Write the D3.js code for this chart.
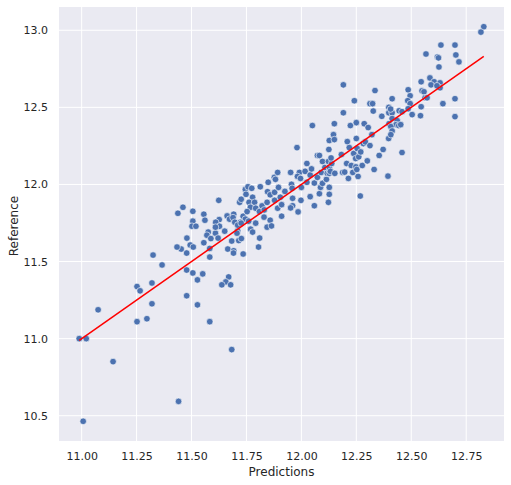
<!DOCTYPE html>
<html>
<head>
<meta charset="utf-8">
<script src="https://cdn.jsdelivr.net/npm/d3@7"></script>
<style>
  body { margin: 0; background: #fff; }
  text { font-family: "DejaVu Sans", sans-serif; fill: #262626; }
</style>
</head>
<body>
<svg id="chart" width="511" height="485"></svg>
<script>
const predictions = [
  10.989, 11.021, 11.075, 11.143, 11.007, 11.441, 11.252, 11.266, 11.320, 11.320,
  11.252, 11.297, 11.325, 11.366, 11.478, 11.527, 11.478, 11.506, 11.527, 11.478,
  11.453, 11.434, 11.494, 11.508, 11.479, 11.551, 11.583, 11.583, 11.556, 11.669,
  11.656, 11.638, 11.678, 11.583, 11.683, 11.665, 11.692, 11.691, 11.735, 11.805,
  11.683, 11.715, 11.727, 11.810, 11.576, 11.570, 11.588, 11.609, 11.621, 11.651,
  11.710, 11.707, 11.769, 11.778, 11.844, 11.461, 11.438, 11.506, 11.556, 11.561,
  11.506, 11.502, 11.520, 11.624, 11.662, 11.673, 11.692, 11.689, 11.697, 11.626,
  11.610, 11.627, 11.609, 11.735, 11.745, 11.760, 11.722, 11.710, 11.726, 11.792,
  11.830, 11.745, 11.757, 11.774, 11.813, 11.849, 11.846, 11.748, 11.778, 11.719,
  11.726, 11.762, 11.787, 11.821, 11.844, 11.768, 11.792, 11.809, 11.753, 11.831,
  11.858, 11.864, 11.858, 11.878, 11.896, 11.877, 11.882, 11.892, 11.904, 11.878,
  11.892, 11.910, 11.910, 11.925, 11.955, 11.958, 11.960, 11.960, 11.951, 11.985,
  11.998, 12.000, 11.951, 11.991, 11.982, 11.996, 11.980, 12.017, 12.025, 12.040,
  12.046, 12.025, 12.059, 12.040, 12.059, 12.073, 12.082, 12.087, 12.096, 12.090,
  12.073, 12.082, 12.096, 12.107, 12.114, 12.118, 12.127, 12.123, 12.127, 12.138,
  12.135, 12.125, 12.127, 12.146, 12.150, 12.150, 12.050, 12.132, 12.152, 12.127,
  12.127, 12.123, 12.182, 12.188, 12.197, 12.206, 12.214, 12.209, 12.218, 12.191,
  12.223, 12.250, 12.241, 12.227, 12.234, 12.238, 12.247, 12.261, 12.250, 12.254,
  12.270, 12.248, 12.252, 12.258, 12.277, 12.268, 12.282, 12.291, 12.286, 12.304,
  12.300, 12.312, 12.321, 12.312, 12.324, 12.327, 12.335, 12.331, 12.354, 12.366,
  12.398, 12.397, 12.399, 12.394, 12.191,
  12.830, 12.817, 12.635, 12.699, 12.567, 12.703, 12.619, 12.624, 12.717, 12.626,
  12.545, 12.585, 12.604, 12.631, 12.590, 12.631, 12.617, 12.486, 12.549, 12.558,
  12.495, 12.484, 12.495, 12.413, 12.563, 12.572, 12.699, 12.644, 12.545, 12.542,
  12.699, 12.504, 12.445, 12.458, 12.486, 12.398, 12.413, 12.413, 12.436, 12.431,
  12.443, 12.452, 12.407, 12.413, 12.407, 12.372, 12.458, 12.406
]

const reference = [
  11.000, 11.000, 11.187, 10.851, 10.464, 10.593, 11.338, 11.310, 11.361, 11.226,
  11.110, 11.129, 11.542, 11.478, 11.278, 11.219, 11.445, 11.426, 11.381, 11.555,
  11.581, 11.594, 11.607, 11.594, 11.652, 11.420, 11.529, 11.585, 11.622, 11.400,
  11.368, 11.349, 11.349, 11.110, 10.929, 11.581, 11.570, 11.555, 11.549, 11.594,
  11.633, 11.636, 11.649, 11.652, 11.691, 11.671, 11.649, 11.684, 11.652, 11.697,
  11.699, 11.684, 11.710, 11.691, 11.723, 11.852, 11.813, 11.826, 11.807, 11.768,
  11.762, 11.729, 11.729, 11.897, 11.796, 11.775, 11.807, 11.785, 11.755, 11.772,
  11.755, 11.729, 11.723, 11.794, 11.775, 11.762, 11.755, 11.736, 11.749, 11.749,
  11.788, 11.968, 11.985, 11.975, 11.985, 12.014, 11.953, 11.936, 11.917, 11.884,
  11.904, 11.884, 11.884, 11.861, 11.884, 11.852, 11.846, 11.824, 11.824, 11.835,
  11.768, 11.731, 11.933, 11.949, 11.981, 12.046, 12.033, 12.078, 11.917, 11.897,
  11.846, 11.869, 11.794, 11.955, 12.001, 11.975, 11.910, 11.862, 11.848, 11.822,
  11.897, 11.981, 12.078, 12.078, 12.052, 12.039, 12.239, 12.085, 12.136, 12.061,
  12.101, 12.014, 12.009, 11.921, 11.862, 12.046, 11.940, 11.981, 12.007, 12.078,
  12.188, 12.188, 12.149, 12.110, 12.033, 12.072, 12.072, 12.149, 12.110, 12.136,
  12.172, 12.227, 12.285, 12.323, 12.291, 12.394, 12.382, 12.085, 12.072, 11.981,
  11.936, 11.884, 12.194, 12.078, 12.080, 12.136, 12.039, 12.278, 12.239, 12.465,
  12.382, 12.401, 12.543, 12.123, 12.078, 12.201, 12.168, 12.179, 12.298, 12.233,
  12.211, 12.114, 12.097, 12.052, 12.123, 11.925, 12.265, 12.276, 12.394, 12.369,
  12.153, 12.252, 12.323, 12.524, 12.524, 12.476, 12.609, 12.097, 12.188, 12.442,
  12.500, 12.298, 12.394, 12.054, 12.646,
  13.023, 12.988, 12.904, 12.904, 12.846, 12.840, 12.827, 12.821, 12.795, 12.762,
  12.666, 12.691, 12.666, 12.659, 12.646, 12.627, 12.640, 12.614, 12.607, 12.601,
  12.575, 12.543, 12.524, 12.556, 12.562, 12.562, 12.556, 12.524, 12.504, 12.446,
  12.440, 12.453, 12.478, 12.472, 12.491, 12.465, 12.465, 12.427, 12.414, 12.388,
  12.382, 12.388, 12.375, 12.347, 12.323, 12.227, 12.207, 12.489
]

const xTicks = [11.0, 11.25, 11.5, 11.75, 12.0, 12.25, 12.5, 12.75]
const yTicks = [10.5, 11.0, 11.5, 12.0, 12.5, 13.0]

const draw = () => {
  let svg = d3.select("#chart")
  let left = 59, right = 504, top = 7, bottom = 441

  // matplotlib style 5% margins around the data
  const pad = (ext) => {
    let m = (ext[1] - ext[0]) * 0.05
    return [ext[0] - m, ext[1] + m]
  }
  let x = d3.scaleLinear().domain(pad(d3.extent(predictions))).range([left, right])
  let y = d3.scaleLinear().domain(pad(d3.extent(reference))).range([bottom, top])

  svg.append("rect")
    .attr("x", left).attr("y", top)
    .attr("width", right - left).attr("height", bottom - top)
    .attr("fill", "#eaeaf2")

  let xAxis = svg.append("g")
    .attr("transform", `translate(0,${bottom})`)
    .call(d3.axisBottom(x).tickValues(xTicks).tickFormat(d3.format(".2f")).tickSize(0).tickPadding(11.5))
  xAxis.select(".domain").remove()
  xAxis.selectAll("text").attr("font-size", 11).attr("font-family", null)

  let yAxis = svg.append("g")
    .attr("transform", `translate(${left},0)`)
    .call(d3.axisLeft(y).tickValues(yTicks).tickFormat(d3.format(".1f")).tickSize(0).tickPadding(11))
  yAxis.select(".domain").remove()
  yAxis.selectAll("text").attr("font-size", 11).attr("font-family", null)

  // grid
  svg.append("g").selectAll("line").data(xTicks).join("line")
    .attr("x1", d => x(d)).attr("x2", d => x(d))
    .attr("y1", top).attr("y2", bottom)
    .attr("stroke", "#fff").attr("stroke-width", 1)
  svg.append("g").selectAll("line").data(yTicks).join("line")
    .attr("x1", left).attr("x2", right)
    .attr("y1", d => y(d)).attr("y2", d => y(d))
    .attr("stroke", "#fff").attr("stroke-width", 1)

  let points = predictions.map((p, i) => [p, reference[i]])
  svg.append("g").selectAll("circle").data(points).join("circle")
    .attr("cx", d => x(d[0]))
    .attr("cy", d => y(d[1]))
    .attr("r", 3.3)
    .attr("fill", "#4c72b0")
    .attr("stroke", "#fff")
    .attr("stroke-width", 0.6)

  // y = x line over the prediction range
  let ext = d3.extent(predictions)
  svg.append("path")
    .datum([[ext[0], ext[0]], [ext[1], ext[1]]])
    .attr("d", d3.line().x(d => x(d[0])).y(d => y(d[1])))
    .attr("stroke", "red")
    .attr("stroke-width", 1.5)
    .attr("fill", "none")

  svg.append("text")
    .attr("x", (left + right) / 2).attr("y", 476)
    .attr("text-anchor", "middle")
    .attr("font-size", 12)
    .text("Predictions")

  svg.append("text")
    .attr("transform", `translate(17.5,${(top + bottom) / 2 + 2}) rotate(-90)`)
    .attr("text-anchor", "middle")
    .attr("font-size", 12)
    .text("Reference")
}

draw()
</script>
</body>
</html>
